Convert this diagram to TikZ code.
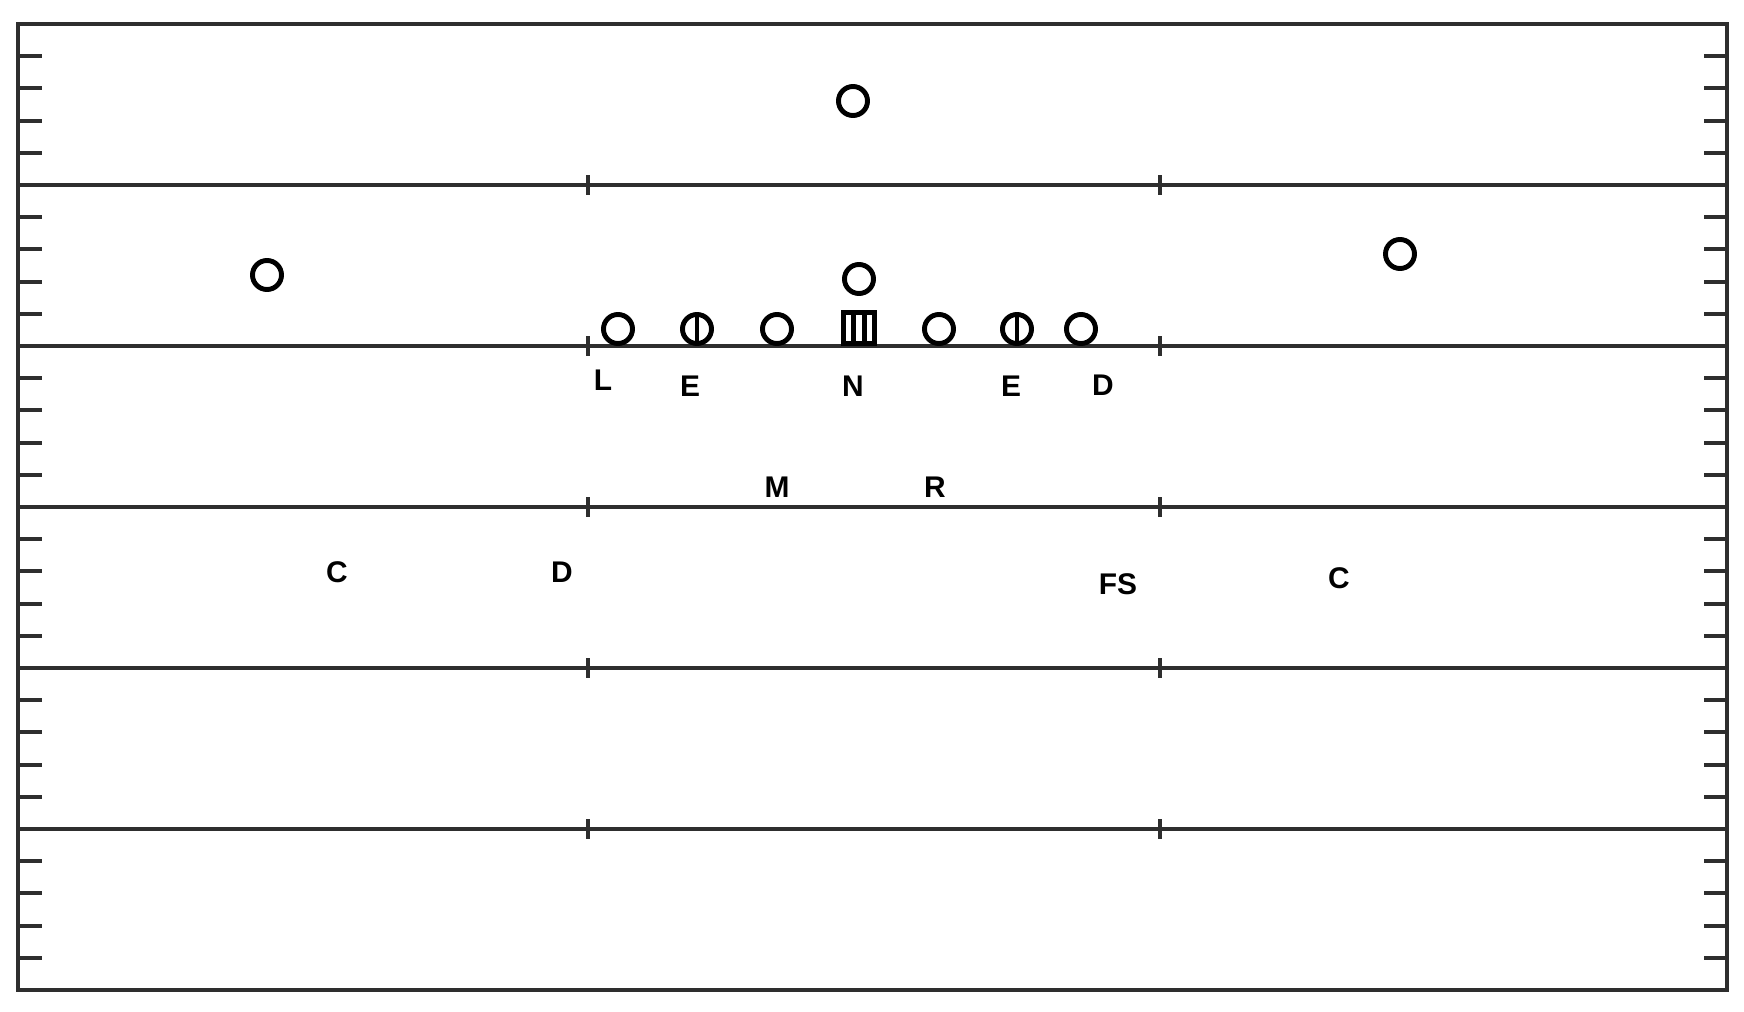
\documentclass[tikz,border=0pt]{standalone}
\usepackage{fontspec}
\setmainfont{Liberation Sans}
\begin{document}
\begin{tikzpicture}[x=0.01cm, y=-0.01cm,
    fieldline/.style={line width=1.1pt, draw=black!82},
    player/.style={circle, draw=black, line width=1.4pt, minimum size=0.29cm, inner sep=0pt},
    centre/.style={rectangle, draw=black, line width=1.4pt, minimum size=0.31cm, inner sep=0pt},
    defender/.style={font=\fontsize{8.5}{10}\selectfont\bfseries, inner sep=0pt}]
  \useasboundingbox (0,0) rectangle (1744,1012);

  % field, yard lines and hash marks
  \draw[fieldline] (18,24) rectangle (1727,990);
  \foreach\k in {1,...,5}{
      \pgfmathsetmacro\y{24+161*\k}
      \draw[fieldline] (18,\y) -- (1727,\y);
      \draw[fieldline] (588,\y-10) -- (588,\y+10);
      \draw[fieldline] (1160,\y-10) -- (1160,\y+10);
  }
  \foreach\k in {0,...,5}{
      \foreach\t in {1,...,4}{
          \pgfmathsetmacro\y{24+161*\k+32.2*\t}
          \draw[fieldline] (18,\y) -- (42,\y);
          \draw[fieldline] (1704,\y) -- (1727,\y);
      }
  }

  % offense
  \node[player] (back) at (853,101) {};
  \node[player] (wideL) at (267,275) {};
  \node[player] (wideR) at (1400,254) {};
  \node[player] (qb) at (859,279) {};
  \foreach\name/\x in {1/618,3/777,5/939,7/1081}{
      \node[player] (line\name) at (\x,329) {};
  }
  \foreach\name/\x in {2/697,6/1017}{
      \node[player] (line\name) at (\x,329) {};
      \draw[line width=1.4pt] (line\name.north) -- (line\name.south);
  }
  \node[centre] (line4) at (859,328) {};
  \draw[line width=1.4pt] ([xshift=-0.055cm]line4.north) -- ([xshift=-0.055cm]line4.south);
  \draw[line width=1.4pt] ([xshift=0.055cm]line4.north) -- ([xshift=0.055cm]line4.south);

  % defense
  \node[defender] (defL) at (603,380) {L};
  \node[defender] (defEl) at (690,386) {E};
  \node[defender] (defN) at (853,386) {N};
  \node[defender] (defEr) at (1011,386) {E};
  \node[defender] (defDr) at (1103,385) {D};
  \node[defender] (defM) at (777,487) {M};
  \node[defender] (defR) at (935,487) {R};
  \node[defender] (defCl) at (337,572) {C};
  \node[defender] (defDl) at (562,572) {D};
  \node[defender] (defFS) at (1118,584) {FS};
  \node[defender] (defCr) at (1339,578) {C};
\end{tikzpicture}
\end{document}
